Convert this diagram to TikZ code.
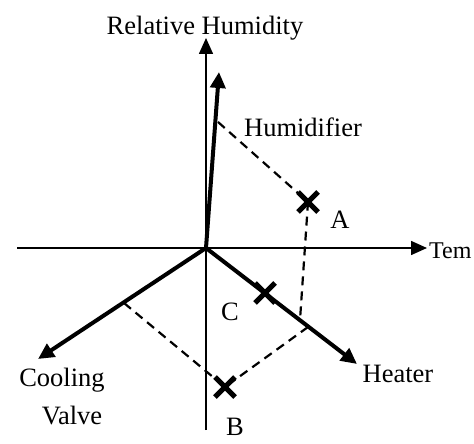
\documentclass[tikz,border=0pt]{standalone}
\usepackage{fontspec}
\setmainfont{Liberation Serif}
\usetikzlibrary{arrows.meta}
\begin{document}
\begin{tikzpicture}[x=1pt,y=-1pt,
  thickarrow/.style={line width=4pt,-{Triangle[length=16pt,width=15pt]}},
  axisarrow/.style={line width=1.6pt,-{Triangle[length=16pt,width=14pt]}},
  dashline/.style={line width=2.2pt,dash pattern=on 9pt off 6pt},
  crossmark/.style={line width=5pt},
  lbl/.style={font=\fontsize{26.5}{28}\selectfont,inner sep=0pt}]
\useasboundingbox (0,0) rectangle (474,444);
% points
\coordinate (O) at (206,248);
\coordinate (xL) at (17,248);
\coordinate (xR) at (427,248);
\coordinate (yT) at (206,38);
\coordinate (yB) at (206,430);
\coordinate (hum) at (219,72);
\coordinate (heat) at (357,364);
\coordinate (cool) at (38,359);
\coordinate (A) at (308,202);
\coordinate (B) at (225,387);
\coordinate (C) at (265,293);
\coordinate (hd) at (218,122);
\coordinate (Ah) at (300,320);
\coordinate (Bc) at (124,303);
\coordinate (Bh) at (308,327);
% axes
\draw[axisarrow] (xL) -- (xR);
\draw[axisarrow] (yB) -- (yT);
% thick arrows
\draw[thickarrow] (O) -- (hum);
\draw[thickarrow] (O) -- (heat);
\draw[thickarrow] (O) -- (cool);
% dashed
\draw[dashline] (hd) -- (A) -- (Ah);
\draw[dashline] (Bc) -- (B) -- (Bh);
% crosses
\foreach \p in {A,B,C}{
  \draw[crossmark] ([shift={(-10,-10)}]\p) -- ([shift={(10,10)}]\p);
  \draw[crossmark] ([shift={(-10,10)}]\p) -- ([shift={(10,-10)}]\p);
}
% labels
\node[lbl] (tRH) at (205,28) {Relative Humidity};
\node[inner sep=0pt,anchor=west] (tT) at (429,251) {\fontsize{24}{26}\selectfont Tem};
\node[lbl] (tHum) at (303,127) {Humidifier};
\node[lbl] (tA) at (340,220) {A};
\node[lbl] (tB) at (235,427) {B};
\node[lbl] (tC) at (230,312) {C};
\node[lbl] (tHeat) at (398,374) {Heater};
\node[lbl] (tCool) at (62,380) {Cooling};
\node[lbl] (tValve) at (72,416) {Valve};
\end{tikzpicture}
\end{document}
